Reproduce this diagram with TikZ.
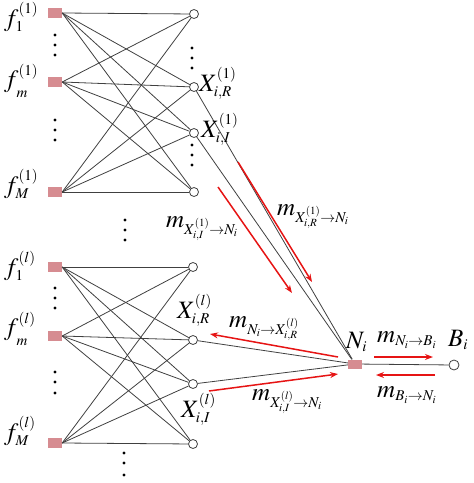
\documentclass[tikz,border=0pt]{standalone}
\usepackage{mathptmx}
\DeclareMathSizes{25}{25}{15}{11}
\usetikzlibrary{arrows.meta}
\definecolor{sq}{RGB}{214,140,145}
\definecolor{msgred}{RGB}{230,20,20}
\newcommand{\lowsub}[1]{\kern1pt\raisebox{-4pt}{$\scriptstyle #1$}}
\newcommand{\highsup}[1]{\raisebox{2pt}{$\scriptstyle #1$}}
\begin{document}
\begin{tikzpicture}[x=1pt,y=-1pt,
  fnode/.style={rectangle, fill=sq, minimum width=14pt, minimum height=10pt, inner sep=0pt},
  vnode/.style={circle, draw=black!75, fill=white, minimum size=9pt, inner sep=0pt, line width=0.8pt},
  edge/.style={draw=black!75, line width=0.8pt},
  msg/.style={draw=msgred, line width=1.5pt, -{Stealth[length=8pt,width=6pt]}},
  lbl/.style={inner sep=0pt, font=\fontsize{25}{29}\selectfont, anchor=base west},
  dotc/.style={fill=black}
]
\useasboundingbox (0,0) rectangle (474,483);

% top group
\node[fnode] (s11) at (55,13) {};
\node[fnode] (s1m) at (55,82) {};
\node[fnode] (s1M) at (55,192) {};
\node[vnode] (c11) at (194,14) {};
\node[vnode] (c1R) at (194,87) {};
\node[vnode] (c1I) at (194,133) {};
\node[vnode] (c1M) at (194,192) {};
% bottom group
\node[fnode] (sl1) at (55,267) {};
\node[fnode] (slm) at (55,336) {};
\node[fnode] (slM) at (55,443) {};
\node[vnode] (cl1) at (193,267) {};
\node[vnode] (clR) at (193,340) {};
\node[vnode] (clI) at (193,384) {};
\node[vnode] (clM) at (193,444) {};
% factor and belief
\node[fnode, minimum height=9pt] (Ni) at (355,364) {};
\node[vnode, minimum size=10pt] (Bi) at (454,365) {};

% edges
\foreach \s in {s11,s1m,s1M}
  \foreach \c in {c11,c1R,c1I,c1M}
    \draw[edge] (\s.east) -- (\c);
\foreach \s in {sl1,slm,slM}
  \foreach \c in {cl1,clR,clI,clM}
    \draw[edge] (\s.east) -- (\c);
\draw[edge] (c1R) -- (Ni);
\draw[edge] (c1I) -- (Ni);
\draw[edge] (clR) -- (Ni);
\draw[edge] (clI) -- (Ni);
\draw[edge] (Ni) -- (Bi);

% dots
\foreach \x/\y in {55/35,55/45,55/55,55/120,55/130,55/140,
                   192/48,192/58,192/68,192/145,192/155,192/165,
                   125/220,125/230,125/240,
                   55/288,55/298,55/308,55/372,55/382,55/393,
                   124/453,124/463,124/475}
  \fill[dotc] (\x,\y) circle[radius=1.7pt];

% labels
\node[lbl] (Lf11) at (4,26) {$f_1^{(1)}$};
\node[lbl] (Lf1m) at (4,87) {$f_{\lowsub{m}}^{\highsup{(1)}}$};
\node[lbl] (Lf1M) at (4,193) {$f_M^{(1)}$};
\node[lbl] (Lfl1) at (4,275) {$f_1^{(l)}$};
\node[lbl] (Lflm) at (4,335) {$f_{\lowsub{m}}^{\highsup{(l)}}$};
\node[lbl] (LflM) at (4,440) {$f_M^{(l)}$};
\node[lbl] (LXR1) at (199,91) {$X_{i,R}^{(1)}$};
\node[lbl] (LXI1) at (201,137) {$X_{i,I}^{(1)}$};
\node[lbl] (LXRl) at (177,318) {$X_{i,R}^{(l)}$};
\node[lbl] (LXIl) at (181,417) {$X_{i,I}^{(l)}$};
\node[lbl] (LNi) at (346,348) {$N_i$};
\node[lbl] (LBi) at (448,346) {$B_i$};
\node[lbl] (Lm1) at (166,227) {$m_{X_{i,I}^{(1)}\to N_i}$};
\node[lbl] (Lm2) at (277,215) {$m_{X_{i,R}^{(1)}\to N_i}$};
\node[lbl] (Lm3) at (229,327) {$m_{N_i\to X_{i,R}^{(l)}}$};
\node[lbl] (Lm4) at (252,400) {$m_{X_{i,I}^{(l)}\to N_i}$};
\node[lbl] (Lm5) at (377,342) {$m_{N_i\to B_i}$};
\node[lbl] (Lm6) at (377,397) {$m_{B_i\to N_i}$};

% message arrows
\coordinate (a1s) at (238,162); \coordinate (a1e) at (312,282);
\coordinate (a2s) at (218,187); \coordinate (a2e) at (292,293);
\coordinate (a3s) at (338,357); \coordinate (a3e) at (210,334);
\coordinate (a4s) at (209,391); \coordinate (a4e) at (338,374);
\coordinate (a5s) at (374,357); \coordinate (a5e) at (433,357);
\coordinate (a6s) at (435,375); \coordinate (a6e) at (376,375);
\draw[msg] (a1s) -- (a1e);
\draw[msg] (a2s) -- (a2e);
\draw[msg] (a3s) -- (a3e);
\draw[msg] (a4s) -- (a4e);
\draw[msg] (a5s) -- (a5e);
\draw[msg] (a6s) -- (a6e);
\end{tikzpicture}
\end{document}
